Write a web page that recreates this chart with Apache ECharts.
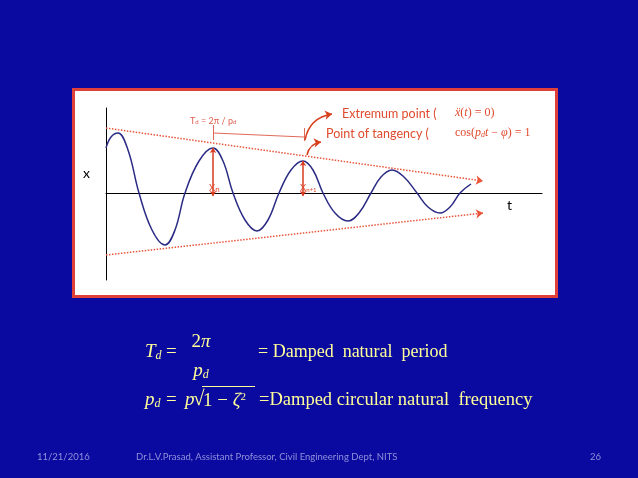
<!DOCTYPE html>
<html><head><meta charset="utf-8">
<script src="https://cdn.jsdelivr.net/npm/echarts@6/dist/echarts.min.js"></script>
<style>html,body{margin:0;padding:0;background:#0A0AA0}#c{width:638px;height:478px}</style>
</head><body><div id="c"></div>
<script>
// damped oscillation x(t) (arbitrary units)
const tVals = [0, 5, 12, 22, 33, 46, 59, 69, 79, 93, 107, 117, 127, 139, 151, 162, 173, 185, 197, 207, 217, 229, 242, 253, 265, 275, 286, 298, 311, 322, 334, 344, 354, 365];
const xVals = [45, 56, 60, 43, 0, -37, -52, -37, 0, 32, 45, 32, 0, -27, -38, -27, 0, 23, 32, 23, 0, -20, -28, -20, 0, 16, 23, 16, 0, -14, -20, -14, 0, 9];
// envelope lines
const upperEnvelope = [[0, 65], [377, 12]];
const lowerEnvelope = [[0, -62], [377, -20]];
// successive peaks x_n and x_{n+1}
const peakT = [107, 197];
const peakX = [45, 32];
// Td bracket
const bracketY = [60, 56];
const bracketTick = [[68, 53], [65, 52]];
// pointer arrows
const pointer1 = [[199, 53], [226, 79]];
const pointer2 = [[201, 38], [215, 51]];

const RED = '#E04A2E';
const chart = echarts.init(document.getElementById('c'));
const sans = 'Lato';
const serif = 'Liberation Serif';
const YEL = '#FFFF99';
const FOOT = '#9090DA';

function txt(x, y, text, font, fill, rich, align) {
  return { type: 'text', z: 10, style: { x, y, text, font, fill, rich, align: align || 'left', verticalAlign: 'middle' } };
}
const iS = (sz) => ({ fontStyle: 'italic', fontSize: sz, fontFamily: serif, fill: YEL });
const subS = { fontStyle: 'italic', fontSize: 12, fontFamily: serif, fill: YEL, verticalAlign: 'bottom', lineHeight: 11 };

chart.setOption({
  backgroundColor: '#0A0AA0',
  animation: false,
  grid: { left: 106, top: 108, width: 436, height: 172, containLabel: false },
  xAxis: { type: 'value', min: 0, max: 436, axisLine: { lineStyle: { color: '#000', width: 1 } }, axisTick: { show: false }, axisLabel: { show: false }, splitLine: { show: false } },
  yAxis: { type: 'value', min: -87, max: 85, axisLine: { show: true, lineStyle: { color: '#000', width: 1 } }, axisTick: { show: false }, axisLabel: { show: false }, splitLine: { show: false } },
  graphic: [
    { type: 'rect', z: -1, shape: { x: 73.5, y: 89.5, width: 483, height: 207 }, style: { fill: '#fff', stroke: '#E0403A', lineWidth: 3 } },
    txt(83, 173, 'x', '14px ' + sans, '#000'),
    txt(507, 205, 't', '14px ' + sans, '#000'),
    txt(190, 121, 'T{s|d} = 2π / p{s|d}', '9px ' + sans, '#E06050', { s: { fontSize: 6, fontFamily: sans, fill: '#E06050', verticalAlign: 'bottom', lineHeight: 6 } }),
    txt(209, 188, 'X{s|n}', '9.5px ' + sans, RED, { s: { fontSize: 8, fontFamily: sans, fill: RED, verticalAlign: 'bottom', lineHeight: 7 } }),
    txt(300, 188, 'X{s|n+1}', '9.5px ' + sans, RED, { s: { fontSize: 6, fontFamily: sans, fill: RED, verticalAlign: 'bottom', lineHeight: 6 } }),
    txt(342, 114, 'Extremum point (', '12.5px ' + sans, RED),
    txt(326, 134, 'Point of tangency (', '12.5px ' + sans, RED),
    txt(455, 113, '{i|ẍ}({i|t}) = 0)', '12px ' + serif, RED, { i: { fontStyle: 'italic', fontSize: 12, fontFamily: serif, fill: RED } }),
    txt(455, 133, 'cos({i|p}{s|d}{i|t} − {i|φ}) = 1', '12px ' + serif, RED, {
      i: { fontStyle: 'italic', fontSize: 12, fontFamily: serif, fill: RED },
      s: { fontStyle: 'italic', fontSize: 8, fontFamily: serif, fill: RED, verticalAlign: 'bottom', lineHeight: 7 } }),
    // formulas
    txt(145, 352, '{i|T}{s|d}', '19px ' + serif, YEL, { i: iS(19), s: subS }),
    txt(166, 352, '=', '19px ' + serif, YEL),
    txt(201, 342, '2{i|π}', '19px ' + serif, YEL, { i: iS(19) }, 'center'),
    txt(201, 371, '{i|p}{s|d}', '19px ' + serif, YEL, { i: iS(19), s: subS }, 'center'),
    txt(258, 352, '= Damped  natural  period', '18px ' + serif, YEL),
    txt(145, 400, '{i|p}{s|d}', '19px ' + serif, YEL, { i: iS(19), s: subS }),
    txt(166, 400, '=', '19px ' + serif, YEL),
    txt(185, 400, '{i|p}', '19px ' + serif, YEL, { i: iS(19) }),
    txt(193, 399, '√', '21px ' + serif, YEL),
    { type: 'line', z: 10, shape: { x1: 202, y1: 386.5, x2: 255, y2: 386.5 }, style: { stroke: YEL, lineWidth: 1 } },
    txt(203, 401, '1 − {i|ζ}{p|2}', '19px ' + serif, YEL, { i: iS(19), p: { fontSize: 11, fontFamily: serif, fill: YEL, verticalAlign: 'top', lineHeight: 11 } }),
    txt(259, 400, '=Damped circular natural  frequency', '18.5px ' + serif, YEL),
    // footer
    txt(37, 457, '11/21/2016', '9.5px ' + sans, FOOT),
    txt(136, 457, 'Dr.L.V.Prasad, Assistant Professor, Civil Engineering Dept, NITS', '9.5px ' + sans, FOOT),
    txt(590, 457, '26', '9.5px ' + sans, FOOT)
  ],
  series: [
    { type: 'line', data: tVals.map((t, i) => [t, xVals[i]]), smooth: 0.4, showSymbol: false, lineStyle: { color: '#2B2B85', width: 1.5 }, z: 3 },
    { type: 'lines', coordinateSystem: 'cartesian2d', z: 4, symbol: ['none', 'arrow'], symbolSize: 7,
      lineStyle: { color: '#E8553A', width: 1.5, type: 'dotted', opacity: 1 },
      data: [{ coords: upperEnvelope }, { coords: lowerEnvelope }] },
    { type: 'lines', coordinateSystem: 'cartesian2d', z: 5, symbol: ['arrow', 'arrow'], symbolSize: 5,
      lineStyle: { color: '#D93A1E', width: 1.5, opacity: 1 },
      data: peakT.map((t, i) => ({ coords: [[t, peakX[i]], [t, -3]] })) },
    { type: 'lines', coordinateSystem: 'cartesian2d', z: 5, symbol: 'none',
      lineStyle: { color: '#E06A5A', width: 1, opacity: 1 },
      data: [
        { coords: [[peakT[0], bracketTick[0][0]], [peakT[0], bracketTick[0][1]]] },
        { coords: [[peakT[0], bracketY[0]], [peakT[1] + 1, bracketY[1]]] },
        { coords: [[peakT[1] + 1, bracketTick[1][0]], [peakT[1] + 1, bracketTick[1][1]]] }
      ] },
    { type: 'lines', coordinateSystem: 'cartesian2d', z: 5, symbol: ['none', 'arrow'], symbolSize: 7,
      lineStyle: { color: '#D8401E', width: 1.5, curveness: 0.35, opacity: 1 },
      data: [{ coords: pointer1 }, { coords: pointer2 }] }
  ]
});
</script></body></html>
